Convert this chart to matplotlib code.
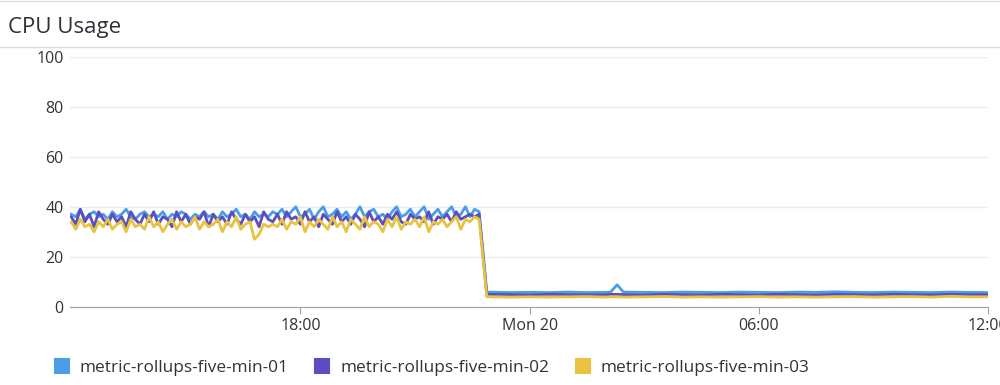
import numpy as np
import matplotlib.pyplot as plt
from matplotlib.patches import Patch
from matplotlib.lines import Line2D

plt.rcParams['font.family'] = ['Open Sans', 'DejaVu Sans']

# hours counted from Sun 19 00:00 -- busy period sampled every 7.2 min
busy_start, busy_step = 12.0, 0.12

cpu_01_busy = [37, 36, 39, 35, 37, 38, 36, 37, 35, 38, 36, 37, 39, 36, 35, 37, 38, 36, 37, 36,
               38, 35, 37, 36, 38, 37, 35, 37, 36, 38, 36, 37, 35, 38, 36, 37, 39, 36, 37, 35,
               38, 36, 37, 36, 38, 37, 39, 36, 38, 40, 36, 37, 39, 35, 38, 40, 36, 37, 39, 36,
               38, 35, 37, 40, 36, 38, 39, 36, 37, 35, 38, 40, 36, 37, 39, 36, 38, 40, 35, 37,
               39, 36, 38, 40, 36, 37, 40, 36, 39, 38]
cpu_02_busy = [36, 33, 39, 34, 37, 32, 38, 35, 33, 37, 34, 36, 32, 38, 35, 33, 37, 34, 38, 33,
               36, 35, 32, 38, 34, 37, 33, 36, 35, 38, 32, 37, 34, 36, 33, 38, 35, 33, 37, 34,
               36, 32, 38, 35, 34, 37, 33, 38, 35, 36, 33, 38, 34, 36, 32, 37, 35, 33, 38, 34,
               36, 33, 37, 35, 32, 38, 34, 36, 33, 37, 35, 38, 34, 33, 37, 35, 36, 34, 38, 33,
               36, 35, 37, 34, 38, 35, 36, 37, 36, 37]
cpu_03_busy = [34, 31, 35, 32, 33, 30, 34, 32, 35, 31, 33, 34, 30, 35, 32, 33, 31, 36, 32, 34,
               30, 33, 35, 31, 34, 32, 33, 36, 31, 34, 32, 33, 35, 30, 34, 32, 36, 31, 33, 34,
               27, 29, 33, 32, 33, 32, 35, 31, 34, 33, 36, 30, 34, 32, 35, 33, 31, 36, 32, 34,
               30, 35, 33, 31, 36, 32, 34, 33, 30, 35, 32, 36, 31, 34, 33, 35, 32, 36, 30, 34,
               33, 35, 32, 34, 36, 31, 35, 34, 36, 35]

# idle period after the drop
idle_hours = [22.88, 23.5, 24.0, 24.5, 25.0, 25.5, 26.0, 26.12, 26.29, 26.46, 27.0, 27.5,
              28.0, 28.5, 29.0, 29.5, 30.0, 30.5, 31.0, 31.5, 32.0, 32.5, 33.0, 33.5,
              34.0, 34.5, 35.0, 35.5, 36.0]
cpu_01_idle = [5.9, 5.7, 5.8, 5.7, 5.9, 5.7, 5.8, 5.9, 8.8, 5.9, 5.8, 5.7, 5.9, 5.8, 5.7, 5.9,
               5.8, 5.7, 5.9, 5.8, 6.0, 5.8, 5.7, 5.9, 5.8, 5.7, 5.9, 5.8, 5.7]
cpu_02_idle = [5.0, 4.9, 4.8, 5.0, 4.9, 4.8, 4.9, 5.0, 5.0, 4.9, 4.8, 5.0, 4.9, 4.8, 5.0, 4.9,
               4.8, 5.0, 4.9, 4.8, 5.0, 4.9, 4.8, 5.0, 4.9, 4.8, 5.0, 4.9, 4.9]
cpu_03_idle = [4.0, 3.9, 4.0, 3.9, 4.0, 4.1, 3.9, 4.0, 4.0, 3.9, 4.0, 4.1, 3.9, 4.0, 3.9, 4.0,
               4.1, 3.9, 4.0, 3.9, 4.0, 4.1, 3.9, 4.0, 4.1, 3.9, 4.2, 4.0, 4.0]

series_names = ['metric-rollups-five-min-01', 'metric-rollups-five-min-02', 'metric-rollups-five-min-03']
series_colors = ['#4a9de6', '#5a4ec0', '#e9c240']

tick_hours = [18, 24, 30, 36]
tick_labels = ['18:00', 'Mon 20', '06:00', '12:00']

busy_hours = busy_start + busy_step * np.arange(len(cpu_01_busy))
hours = np.concatenate([busy_hours, idle_hours])
series = [cpu_01_busy + cpu_01_idle, cpu_02_busy + cpu_02_idle, cpu_03_busy + cpu_03_idle]

fig = plt.figure(figsize=(10, 3.85), dpi=100)
ax = fig.add_axes([0.07, 0.203, 0.918, 0.65])

for i, (vals, col) in enumerate(zip(series, series_colors)):
    ax.plot(hours, vals, color=col, linewidth=2.0, zorder=3 + i,
            solid_joinstyle='round')

ax.set_xlim(busy_start - 0.03, 36)
ax.set_ylim(0, 100)
ax.set_yticks([0, 20, 40, 60, 80, 100])
ax.set_xticks(tick_hours)
ax.set_xticklabels(tick_labels)
ax.grid(axis='y', color='#ebebeb', linewidth=1)
ax.set_axisbelow(True)
for s in ['top', 'right', 'left']:
    ax.spines[s].set_visible(False)
ax.spines['bottom'].set_color('#a0a0a0')
ax.tick_params(axis='y', length=0, pad=4.5, labelsize=11.5, labelcolor='#333333')
ax.tick_params(axis='x', length=5, color='#a0a0a0', pad=3, labelsize=11.5, labelcolor='#333333')

# header
fig.text(0.008, 0.914, 'CPU Usage', fontsize=16, color='#2d3238', va='baseline', ha='left')
fig.add_artist(Line2D([0, 1], [0.879, 0.879], color='#dddddd', linewidth=1))
fig.add_artist(Line2D([0, 1], [0.998, 0.998], color='#dddddd', linewidth=1))

handles = [Patch(facecolor=c, edgecolor=c, joinstyle='round', linewidth=1.5) for c in series_colors]
fig.legend(handles, series_names, loc='center left', bbox_to_anchor=(0.055, 0.045),
           ncol=3, frameon=False, fontsize=12.4, handlelength=0.82, handleheight=0.82,
           handletextpad=0.62, columnspacing=1.55, borderaxespad=0, borderpad=0,
           labelcolor='#333333')

fig.savefig('out.png', dpi=100)
